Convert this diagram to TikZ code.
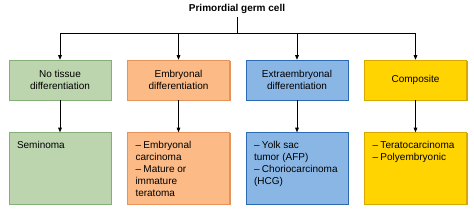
\documentclass[tikz,border=0pt]{standalone}
\usepackage{fontspec}
\setmainfont{Liberation Sans}
\usepackage{xcolor}
\usepackage{tikz}
\usetikzlibrary{positioning,arrows.meta,shadows}
\definecolor{greenfill}{HTML}{BCD5AE}
\definecolor{greenedge}{HTML}{86AE78}
\definecolor{orangefill}{HTML}{FBBA86}
\definecolor{orangeedge}{HTML}{E5935A}
\definecolor{bluefill}{HTML}{89B6E5}
\definecolor{blueedge}{HTML}{2C6BB2}
\definecolor{yellowfill}{HTML}{FFD400}
\definecolor{yellowedge}{HTML}{D4A900}

\newlength{\dashwd}
\setlength{\dashwd}{8pt}
\newcommand{\dashitem}[1]{\par\noindent\hangindent=\dashwd\hangafter=1\makebox[\dashwd][l]{\textendash}\strut#1}
\newcommand{\celltext}[1]{\parbox[c][56pt][t]{86pt}{\raggedright#1}}

\begin{document}
\begin{tikzpicture}[
    x=1pt, y=1pt,
    node distance=16pt,
    cell/.style={draw=#1edge, line width=0.5pt, fill=#1fill,
        drop shadow={shadow xshift=1pt, shadow yshift=-1pt, fill=#1edge, opacity=1},
        minimum width=102pt, font=\fontsize{10}{12}\selectfont},
    topbox/.style={cell=#1, minimum height=40pt, align=center, inner sep=2pt},
    listbox/.style={cell=#1, inner sep=8pt},
    arr/.style={-{Triangle[length=4.5pt, width=3.6pt]}, line width=0.7pt}
]
    \useasboundingbox (0,0) rectangle (474,-213);

    \node[font=\bfseries\fontsize{10}{12}\selectfont] (germ) at (237,-9) {Primordial germ cell};

    % first row
    \node[topbox=green] (notissue) at (60,-80) {No tissue\\differentiation};
    \node[topbox=orange, right=of notissue] (embryonal) {Embryonal\\differentiation};
    \node[topbox=blue, right=of embryonal] (extra) {Extraembryonal\\differentiation};
    \node[topbox=yellow, right=of extra] (composite) {Composite};

    % second row
    \node[listbox=green, below=32pt of notissue] (seminoma) {\celltext{\strut Seminoma}};
    \node[listbox=orange, below=32pt of embryonal] (embryo) {\celltext{\dashitem{Embryonal\\carcinoma}\dashitem{Mature or\\immature\\teratoma}}};
    \node[listbox=blue, below=32pt of extra] (yolk) {\celltext{\dashitem{Yolk sac\\tumor (AFP)}\dashitem{Choriocarcinoma\\(HCG)}}};
    \node[listbox=yellow, below=32pt of composite] (terato) {\celltext{\dashitem{Teratocarcinoma}\dashitem{Polyembryonic}}};

    \coordinate (split) at ([yshift=-16pt]germ.south);
    \foreach \b in {notissue,embryonal,extra,composite}
        \draw[arr] (germ.south) -- (split) -| (\b.north);

    \draw[arr] (notissue) -- (seminoma);
    \draw[arr] (embryonal) -- (embryo);
    \draw[arr] (extra) -- (yolk);
    \draw[arr] (composite) -- (terato);
\end{tikzpicture}
\end{document}
